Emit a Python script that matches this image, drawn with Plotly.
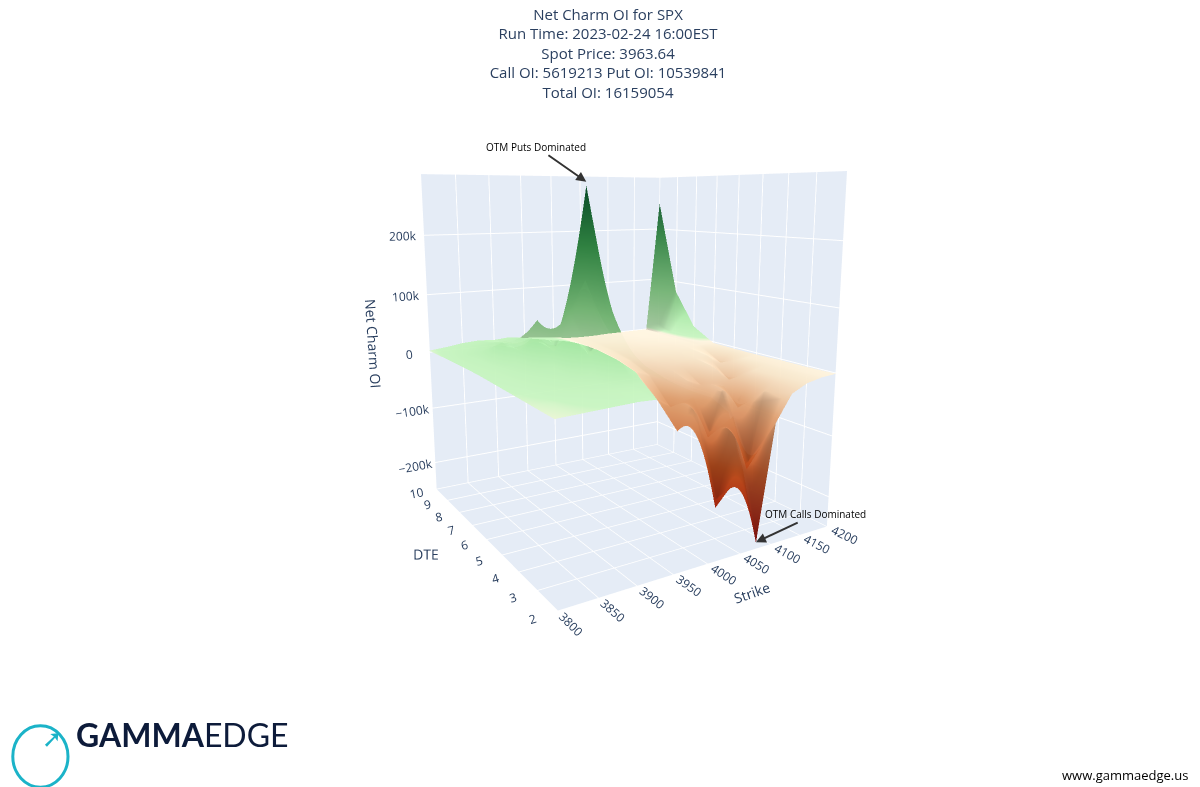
import plotly.graph_objects as go

strikes = [3800, 3825, 3850, 3875, 3900, 3925, 3950, 3975, 4000, 4025, 4050, 4075, 4100, 4125, 4150, 4175, 4200]
dte = [2, 3, 4, 5, 6, 7, 8, 9, 10]
charm = [
    [2000, 3000, 4000, 5000, 6000, 5000, 8000, 6000, -5000, -30000, -120000, -240000, -60000, -20000, -8000, -3000, -1000],
    [3000, 4000, 6000, 8000, 10000, 12000, 15000, 10000, -8000, -40000, -200000, -60000, -150000, -30000, -10000, -4000, -2000],
    [4000, 6000, 10000, 15000, 20000, 60000, 30000, 20000, -10000, -90000, -40000, -110000, -30000, -70000, -12000, -5000, -2000],
    [5000, 8000, 15000, 20000, 70000, 30000, 120000, 40000, -15000, -50000, -70000, -30000, -40000, -15000, -40000, -6000, -3000],
    [6000, 10000, 20000, 60000, 30000, 100000, 280000, 60000, 30000, -20000, -30000, -20000, -15000, -10000, -8000, -25000, -3000],
    [6000, 12000, 40000, 25000, 50000, 30000, 80000, 130000, 40000, -10000, -15000, -10000, -8000, -6000, -4000, -3000, -2000],
    [5000, 15000, 20000, 30000, 20000, 60000, 25000, 30000, 10000, -5000, -8000, -6000, -4000, -3000, -2000, -1000, 20000],
    [4000, 10000, 15000, 18000, 15000, 20000, 15000, 10000, 5000, -3000, -4000, -3000, -2000, -1000, -1000, -500, 80000],
    [3000, 6000, 10000, 12000, 10000, 12000, 8000, 6000, 3000, -1000, -2000, -2000, -1000, -1000, -500, -500, 250000],
]
title_lines = ["Net Charm OI for SPX", "Run Time: 2023-02-24 16:00EST", "Spot Price: 3963.64",
               "Call OI: 5619213 Put OI: 10539841", "Total OI: 16159054"]

cmin, cmax = -250000, 300000
z0 = (0 - cmin) / (cmax - cmin)
colorscale = [[0, "#8b0000"], [0.2, "#c0501e"], [0.35, "#e0a070"], [z0 - 0.01, "#faebd0"], [z0, "#fff5e0"],
              [z0 + 0.01, "#c8f5c0"], [0.6, "#90e090"], [0.8, "#3aa050"], [1, "#00502a"]]

fig = go.Figure(go.Surface(x=strikes, y=dte, z=charm, colorscale=colorscale, cmin=cmin, cmax=cmax,
                           showscale=False, opacity=0.95))

axis_common = dict(backgroundcolor="#e5ecf6", gridcolor="white", showbackground=True,
                   zerolinecolor="white", tickfont=dict(size=12, color="#2a3f5f"))
fig.update_layout(
    width=1200, height=787, paper_bgcolor="white",
    font=dict(family="Open Sans", color="#2a3f5f"),
    title=dict(text="<br>".join(title_lines), x=0.5, y=0.985, xanchor="center", yanchor="top",
               font=dict(size=15, color="#2a3f5f")),
    margin=dict(l=0, r=0, t=0, b=0),
    scene=dict(
        domain=dict(x=[0.2, 0.82], y=[0.17, 0.97]),
        aspectmode="manual", aspectratio=dict(x=1, y=1, z=1.15),
        xaxis=dict(title="Strike", range=[3800, 4200], dtick=50, **axis_common),
        yaxis=dict(title="DTE", range=[2, 10], dtick=1, **axis_common),
        zaxis=dict(title="Net Charm OI", range=[-250000, 300000], tickvals=[-200000, -100000, 0, 100000, 200000],
                   ticktext=["−200k", "−100k", "0", "100k", "200k"], **axis_common),
        camera=dict(eye=dict(x=-1.32, y=-2.15, z=0.5)),
        annotations=[
            dict(x=3950, y=6, z=285000, text="OTM Puts Dominated", showarrow=True, arrowhead=2,
                 arrowcolor="#333", ax=-50, ay=-35, font=dict(size=10, color="black")),
            dict(x=4075, y=2, z=-240000, text="OTM Calls Dominated", showarrow=True, arrowhead=2,
                 arrowcolor="#333", ax=60, ay=-28, font=dict(size=10, color="black")),
        ],
    ),
)
fig.add_shape(type="circle", xref="paper", yref="paper", x0=0.004, y0=0.01, x1=0.05, y1=0.088,
              line=dict(color="#1bb3c8", width=3))
fig.add_annotation(xref="paper", yref="paper", x=0.027, y=0.05, text="➚", showarrow=False,
                   font=dict(size=24, color="#1bb3c8"))
fig.add_annotation(xref="paper", yref="paper", x=0.055, y=0.05, xanchor="left",
                   text="<b>GAMMA</b>EDGE", showarrow=False,
                   font=dict(size=32, color="#0d1b3a", family="Lato"))
fig.add_annotation(xref="paper", yref="paper", x=0.985, y=0.012, xanchor="right", yanchor="bottom",
                   text="www.gammaedge.us", showarrow=False, font=dict(size=13, color="black"))
fig.write_html("out.html")
